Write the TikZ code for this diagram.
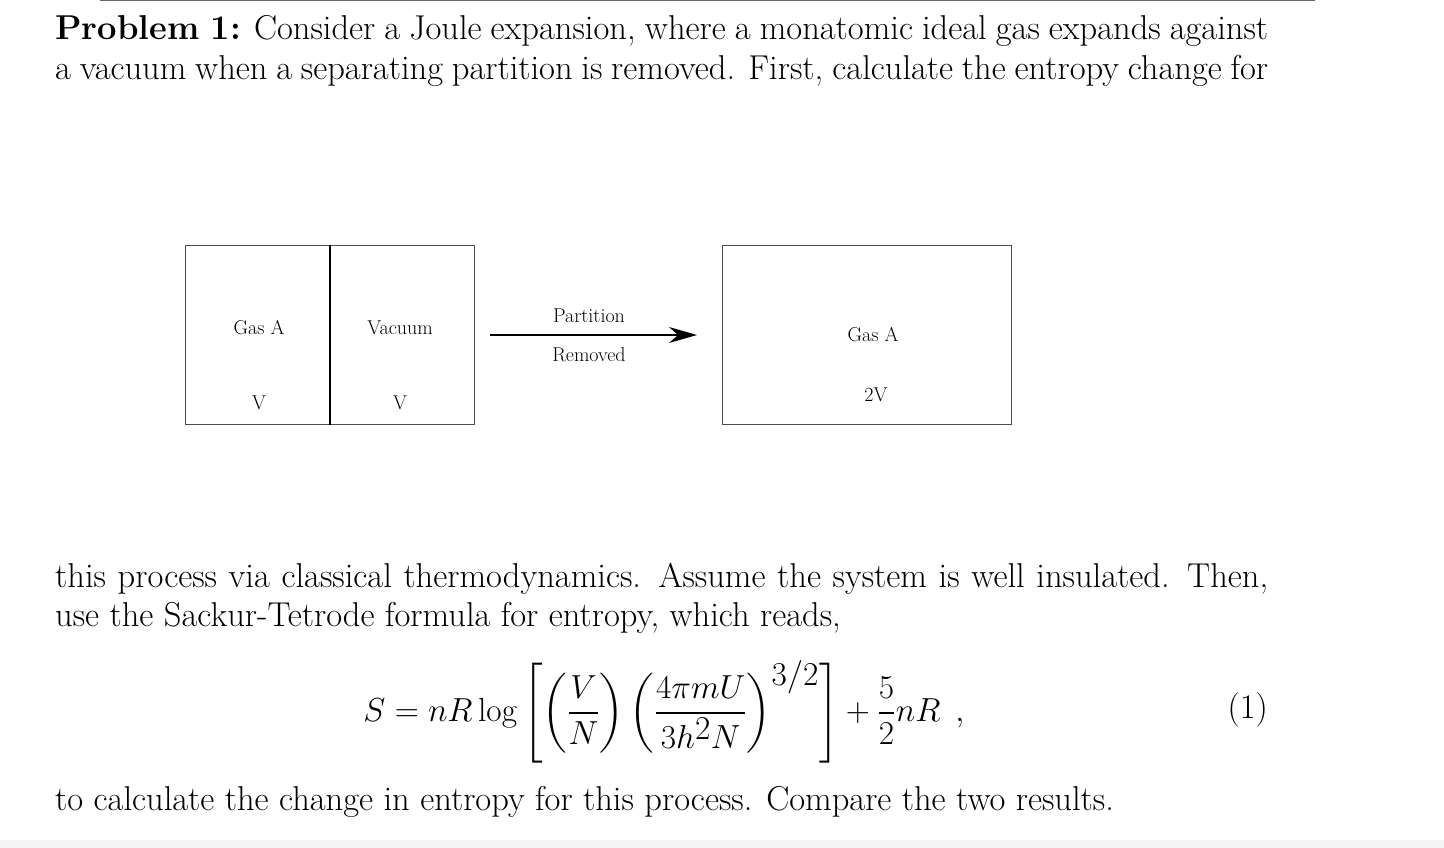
\documentclass[tikz,border=0pt]{standalone}
\usepackage{amsmath}
\usepackage{graphicx}
\usetikzlibrary{arrows.meta}
\begin{document}
\begin{tikzpicture}[x=1pt,y=-1pt,
  body/.style={anchor=base west,inner sep=0pt,font=\fontsize{34.5}{40}\selectfont},
  lbl/.style={inner sep=0pt,font=\fontsize{20}{24}\selectfont},
  box/.style={draw=black!70,line width=1pt}]
\useasboundingbox (0,0) rectangle (1444,848);
\fill[black!4] (0,840) rectangle (1444,848);
\draw[black!60,line width=1pt] (100,1) -- (1315,1);
\node[body] (l1) at (55,40) {\makebox[1213pt][s]{\textbf{Problem 1:} Consider a Joule expansion, where a monatomic ideal gas expands against}};
\node[body] (l2) at (55,80) {\makebox[1213pt][s]{a vacuum when a separating partition is removed. First, calculate the entropy change for}};
\node[body] (l3) at (55,587) {\makebox[1213pt][s]{this process via classical thermodynamics. Assume the system is well insulated. Then,}};
\node[body] (l4) at (55,626) {use the Sackur-Tetrode formula for entropy, which reads,};
\node[body] (l5) at (55,810) {to calculate the change in entropy for this process. Compare the two results.};
\node[inner sep=0pt,font=\fontsize{37}{44}\selectfont,anchor=center] (eq) at (664,712) {\scalebox{1.34}{$\displaystyle S = nR\log\left[\left(\frac{V}{N}\right)\left(\frac{4\pi mU}{3h^2N}\right)^{3/2}\right]+\frac{5}{2}nR\ ,$}};
\node[inner sep=0pt,font=\fontsize{34.5}{40}\selectfont,anchor=east] (num) at (1268,710) {(1)};
% diagram
\node[box,minimum width=289pt,minimum height=179pt,inner sep=0pt] (b1) at (329.5,334.5) {};
\node[box,minimum width=289pt,minimum height=179pt,inner sep=0pt] (b2) at (866.5,334.5) {};
\draw[line width=2pt] (b1.north) -- (b1.south);
\node[lbl] (ga) at (259,328) {Gas A};
\node[lbl] (v1) at (259,403) {V};
\node[lbl] (vac) at (400,328) {Vacuum};
\node[lbl] (v2) at (400,403) {V};
\node[lbl] (pt) at (589,316) {Partition};
\node[lbl] (rm) at (589,355) {Removed};
\node[lbl] (gb) at (873,335) {Gas A};
\node[lbl] (v3) at (876,395) {2V};
\coordinate (as) at (490,335);
\coordinate (ae) at (697,335);
\draw[line width=2pt,-{Stealth[length=28pt,width=16pt]}] (as) -- (ae);
\end{tikzpicture}
\end{document}
